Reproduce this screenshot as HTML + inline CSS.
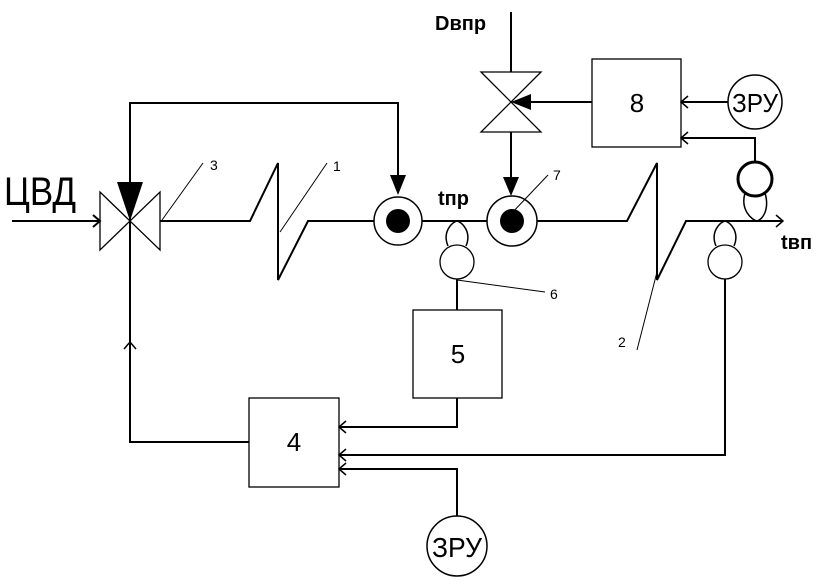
<!DOCTYPE html>
<html><head><meta charset="utf-8"><style>
html,body{margin:0;padding:0;background:#fff;}
svg{display:block}
text{font-family:"Liberation Sans","DejaVu Sans",sans-serif;fill:#000}
</style></head><body>
<svg width="823" height="584" viewBox="0 0 823 584" xmlns="http://www.w3.org/2000/svg">
<g fill="none" stroke="#000" stroke-width="2">
<line x1="12" y1="221" x2="100" y2="221"/>
<polyline points="93,215 100,221 93,227"/>
<polygon points="100,192 160,250 160,192 100,250" stroke-width="1.3"/>
<polyline points="130,221 130,103 398,103 398,180"/>
<polyline points="130,221 130,442 249,442"/>
<polyline points="124,349 130,342 136,349" stroke-width="1.5"/>
<polyline points="160,221 250,221 278,163 278,280 308,221 374,221"/>
<line x1="422" y1="221" x2="487" y2="221"/>
<polyline points="537,221 627,221 657,163 657,280 686,221 783,221"/>
<polyline points="776,215 783,221 776,227" stroke-width="1.5"/>
<circle cx="398" cy="221" r="24" stroke-width="1.5"/>
<circle cx="512" cy="221" r="25" stroke-width="1.5"/>
<line x1="511" y1="12" x2="511" y2="72"/>
<polygon points="481,72 541,132 481,132 541,72" stroke-width="1.3"/>
<line x1="511" y1="132" x2="511" y2="180"/>
<line x1="530" y1="102" x2="592" y2="102"/>
<rect x="592" y="59" width="89" height="88" stroke-width="1.3"/>
<line x1="681" y1="102" x2="728" y2="102"/>
<polyline points="688,96 681,102 688,108" stroke-width="1.5"/>
<circle cx="755" cy="102" r="27" stroke-width="1.5"/>
<polyline points="681,138 755,138 755,163"/>
<polyline points="688,132 681,138 688,144" stroke-width="1.5"/>
<circle cx="755" cy="179" r="17" stroke-width="3"/>
<path d="M745,193 C740,210 752,220 757,221 C762,220 770,210 765,193" stroke-width="1.5"/>
<path d="M448,246 C442,232 452,222 457,221 C462,222 472,232 466,246" stroke-width="1.5"/>
<circle cx="457" cy="262" r="17" stroke-width="1.3"/>
<line x1="457" y1="279" x2="457" y2="310"/>
<path d="M716,246 C710,232 720,222 725,221 C730,222 740,232 734,246" stroke-width="1.5"/>
<circle cx="725" cy="262" r="17" stroke-width="1.3"/>
<polyline points="725,279 725,455 339,455"/>
<rect x="413" y="310" width="89" height="88" stroke-width="1.3"/>
<polyline points="457,398 457,427 339,427"/>
<rect x="249" y="398" width="90" height="89" stroke-width="1.3"/>
<polyline points="346,421 339,427 346,433" stroke-width="1.5"/>
<polyline points="346,449 339,455 346,461" stroke-width="1.5"/>
<polyline points="346,463 339,469 346,475" stroke-width="1.5"/>
<polyline points="339,469 457,469 457,516"/>
<ellipse cx="457" cy="546" rx="30" ry="30" stroke-width="1.5"/>
<g stroke-width="1">
<line x1="162" y1="220" x2="203" y2="163"/>
<line x1="280" y1="232" x2="327" y2="163"/>
<line x1="510" y1="215" x2="548" y2="175"/>
<line x1="457" y1="280" x2="545" y2="292"/>
<line x1="637" y1="350" x2="657" y2="272"/>
</g>
</g>
<circle cx="398" cy="221" r="12" fill="#000"/>
<circle cx="512" cy="221" r="12" fill="#000"/>
<polygon points="117,182 143,182 130,221" fill="#000"/>
<polygon points="390,175 406,175 398,195" fill="#000"/>
<polygon points="503,177 519,177 511,196" fill="#000"/>
<polygon points="511,102 531,94 531,110" fill="#000"/>
<text x="4" y="205" font-size="40" textLength="72" lengthAdjust="spacingAndGlyphs">ЦВД</text>
<text x="210" y="170" font-size="14">3</text>
<text x="333" y="171" font-size="14">1</text>
<text x="553" y="180" font-size="14">7</text>
<text x="550" y="299" font-size="14">6</text>
<text x="618" y="347" font-size="14">2</text>
<text x="438" y="205" font-size="20" font-weight="bold">tпр</text>
<text x="781" y="249" font-size="20" font-weight="bold">tвп</text>
<text x="435" y="30" font-size="20" font-weight="bold">Dвпр</text>
<text x="637" y="112" font-size="26" text-anchor="middle">8</text>
<text x="458" y="363" font-size="26" text-anchor="middle">5</text>
<text x="294" y="451" font-size="26" text-anchor="middle">4</text>
<text x="755" y="112" font-size="26" text-anchor="middle" textLength="46" lengthAdjust="spacingAndGlyphs">ЗРУ</text>
<text x="457" y="557" font-size="28" text-anchor="middle" textLength="50" lengthAdjust="spacingAndGlyphs">ЗРУ</text>
</svg>
</body></html>
